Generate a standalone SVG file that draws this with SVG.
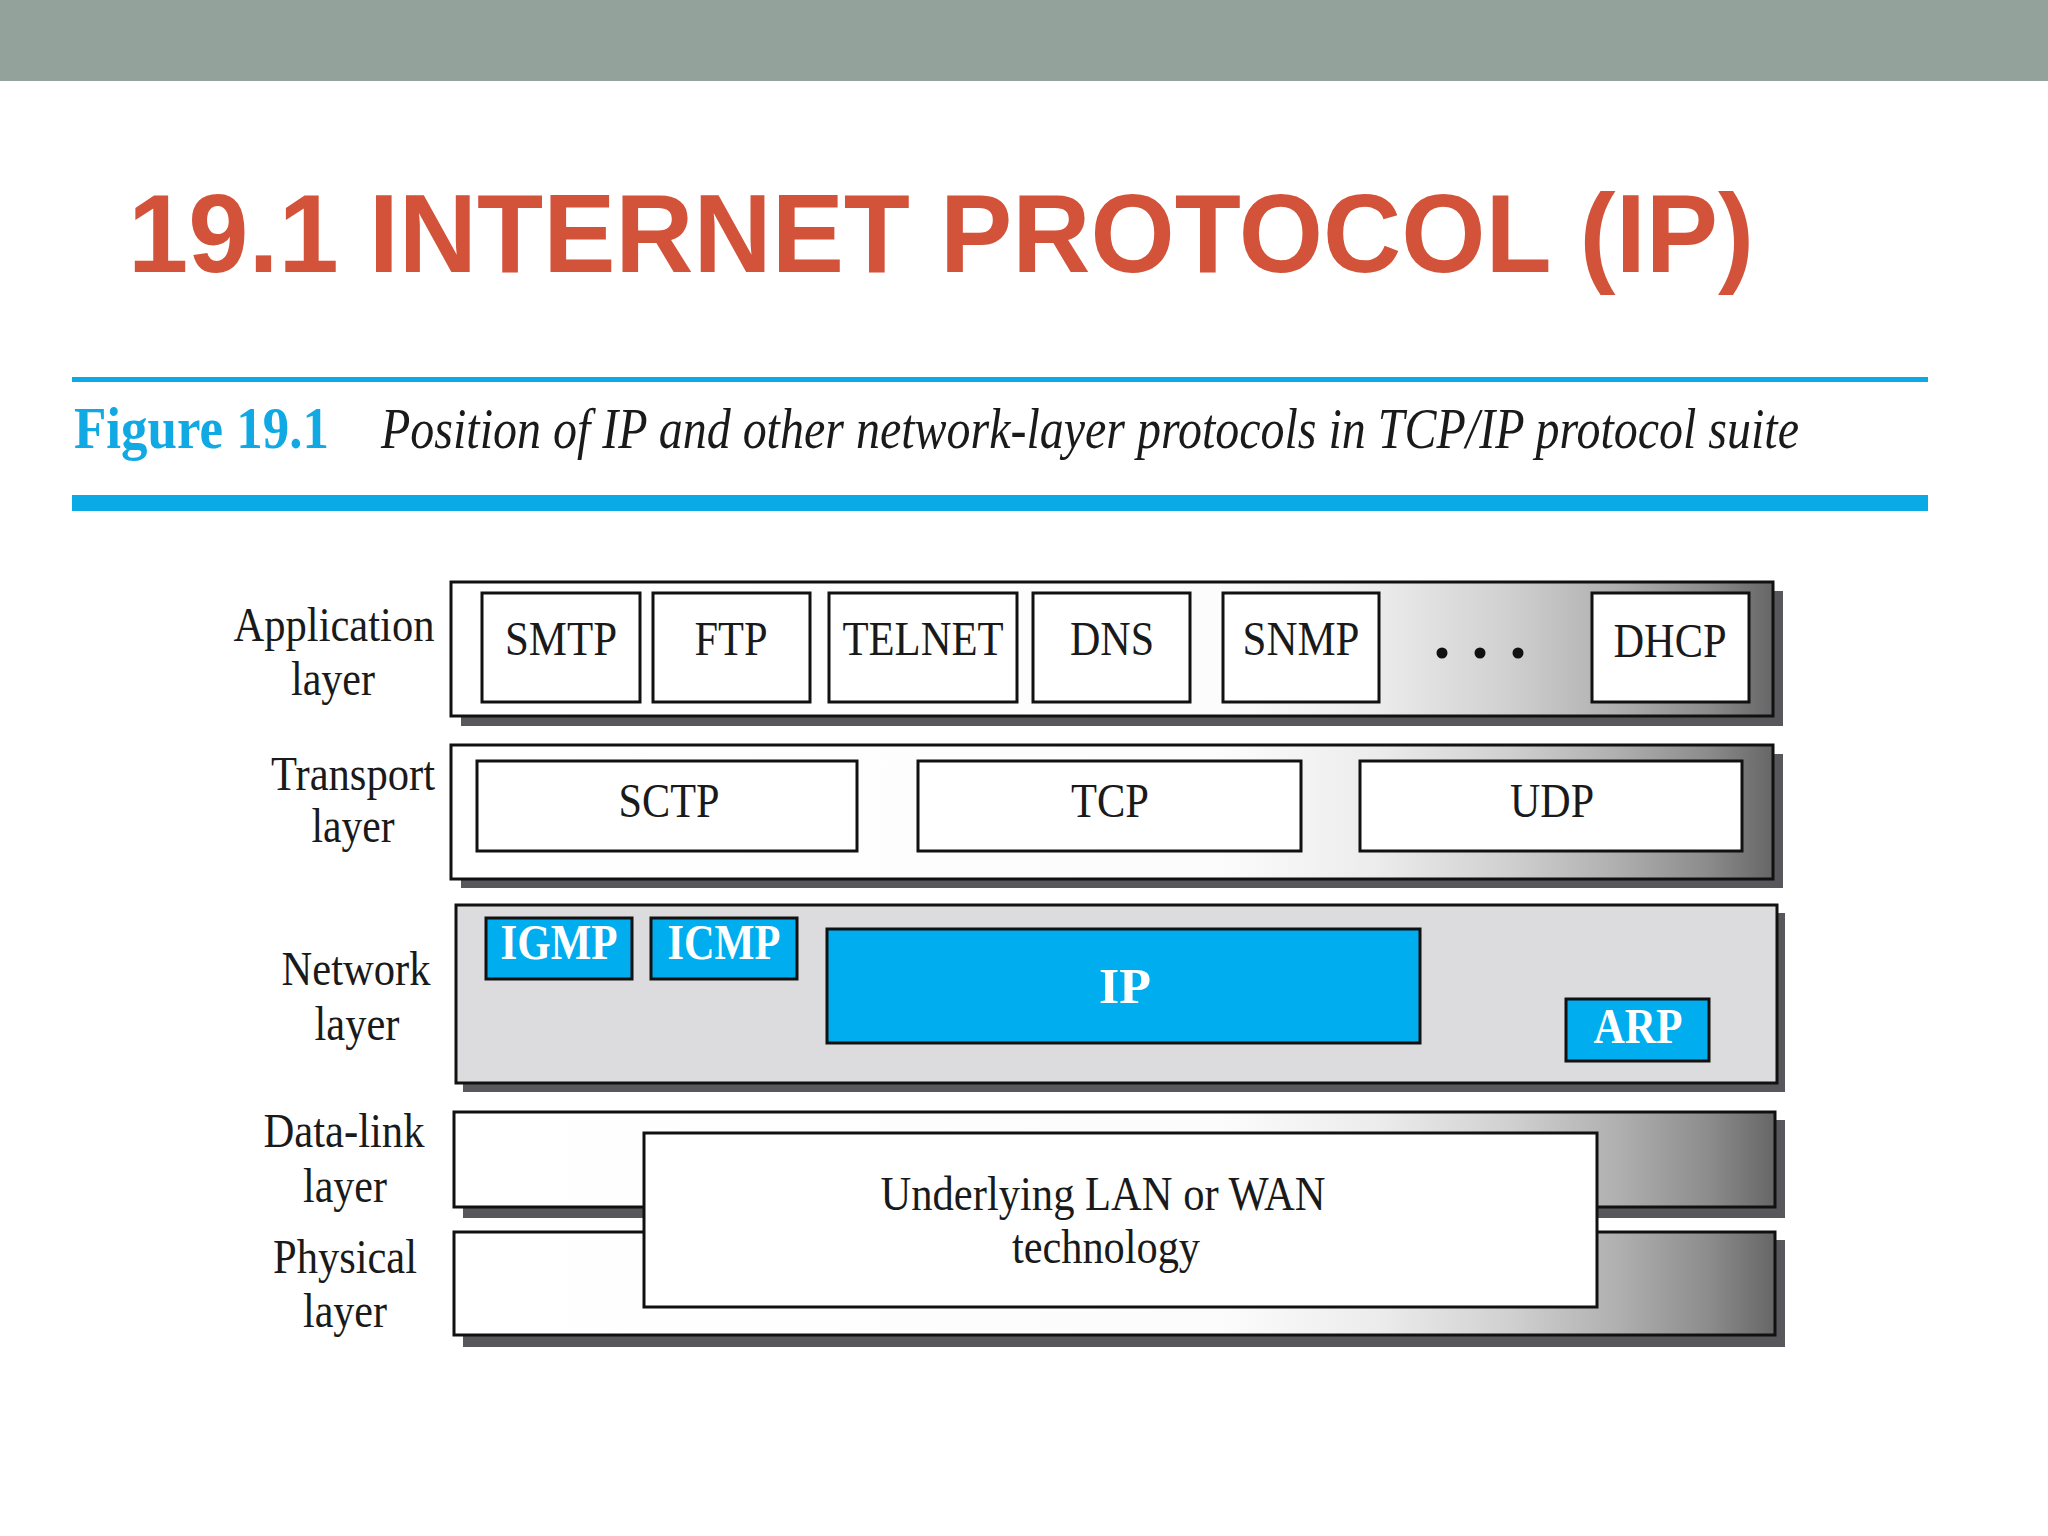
<svg xmlns="http://www.w3.org/2000/svg" width="2048" height="1536" viewBox="0 0 2048 1536">
  <defs>
    <linearGradient id="shade" x1="0" y1="0" x2="1" y2="0">
      <stop offset="0" stop-color="#ffffff"/>
      <stop offset="0.58" stop-color="#fcfcfc"/>
      <stop offset="0.70" stop-color="#ececec"/>
      <stop offset="0.80" stop-color="#d0d0d0"/>
      <stop offset="0.88" stop-color="#b0b0b0"/>
      <stop offset="0.95" stop-color="#8c8c8c"/>
      <stop offset="1" stop-color="#666666"/>
    </linearGradient>
    <style>
      .shadow { fill: #58585c; }
      .layer { fill: url(#shade); stroke: #111; stroke-width: 3; }
      .net { fill: #dcdcdf; stroke: #111; stroke-width: 3; }
      .box { fill: #ffffff; stroke: #111; stroke-width: 3; }
      .blue { fill: #00adef; stroke: #111; stroke-width: 3; }
      .lbl { font-family: "Liberation Serif", "Times New Roman", serif; font-size: 48px; fill: #1a1a1a; text-anchor: middle; }
      .proto { font-family: "Liberation Serif", "Times New Roman", serif; font-size: 48px; fill: #1a1a1a; text-anchor: middle; }
      .wproto { font-family: "Liberation Serif", "Times New Roman", serif; font-size: 50px; font-weight: bold; fill: #ffffff; text-anchor: middle; }
    </style>
  </defs>

  <rect x="0" y="0" width="2048" height="1536" fill="#ffffff"/>
  <rect x="0" y="0" width="2048" height="81" fill="#93a39b"/>

  <text x="128" y="272" font-family="Liberation Sans, Arial, sans-serif" font-size="112" font-weight="bold" fill="#d3533a" textLength="1626" lengthAdjust="spacingAndGlyphs">19.1 INTERNET PROTOCOL (IP)</text>

  <rect x="72" y="377" width="1856" height="5" fill="#0aaae6"/>
  <rect x="72" y="495" width="1856" height="16" fill="#0aaae6"/>
  <text x="74" y="448" font-family="Liberation Serif, Times New Roman, serif" font-size="60" font-weight="bold" fill="#11a9e3" textLength="255" lengthAdjust="spacingAndGlyphs">Figure 19.1</text>
  <text x="381" y="448" font-family="Liberation Serif, Times New Roman, serif" font-size="56" font-style="italic" fill="#1a1a1a" textLength="1418" lengthAdjust="spacingAndGlyphs">Position of IP and other network-layer protocols in TCP/IP protocol suite</text>

  <g id="layer-labels">
    <text class="lbl" x="334" y="641" textLength="201" lengthAdjust="spacingAndGlyphs">Application</text>
    <text class="lbl" x="333" y="695" textLength="84" lengthAdjust="spacingAndGlyphs">layer</text>
    <text class="lbl" x="353" y="790" textLength="164" lengthAdjust="spacingAndGlyphs">Transport</text>
    <text class="lbl" x="353" y="842" textLength="83" lengthAdjust="spacingAndGlyphs">layer</text>
    <text class="lbl" x="356" y="985" textLength="149" lengthAdjust="spacingAndGlyphs">Network</text>
    <text class="lbl" x="357" y="1040" textLength="85" lengthAdjust="spacingAndGlyphs">layer</text>
    <text class="lbl" x="344" y="1147" textLength="161" lengthAdjust="spacingAndGlyphs">Data-link</text>
    <text class="lbl" x="345" y="1202" textLength="84" lengthAdjust="spacingAndGlyphs">layer</text>
    <text class="lbl" x="345" y="1273" textLength="144" lengthAdjust="spacingAndGlyphs">Physical</text>
    <text class="lbl" x="345" y="1327" textLength="84" lengthAdjust="spacingAndGlyphs">layer</text>
  </g>

  <g id="application-layer">
    <rect class="shadow" x="461" y="591" width="1322" height="135"/>
    <rect class="layer" x="451" y="582" width="1322" height="134"/>
  </g>
  <g id="smtp">
    <rect class="box" x="482" y="593" width="158" height="109"/>
    <text class="proto" x="561" y="655" textLength="112" lengthAdjust="spacingAndGlyphs">SMTP</text>
  </g>
  <g id="ftp">
    <rect class="box" x="653" y="593" width="157" height="109"/>
    <text class="proto" x="731" y="655" textLength="73" lengthAdjust="spacingAndGlyphs">FTP</text>
  </g>
  <g id="telnet">
    <rect class="box" x="829" y="593" width="188" height="109"/>
    <text class="proto" x="923" y="655" textLength="161" lengthAdjust="spacingAndGlyphs">TELNET</text>
  </g>
  <g id="dns">
    <rect class="box" x="1033" y="593" width="157" height="109"/>
    <text class="proto" x="1112" y="655" textLength="84" lengthAdjust="spacingAndGlyphs">DNS</text>
  </g>
  <g id="snmp">
    <rect class="box" x="1223" y="593" width="156" height="109"/>
    <text class="proto" x="1301" y="655" textLength="117" lengthAdjust="spacingAndGlyphs">SNMP</text>
  </g>
  <g id="ellipsis">
    <circle cx="1442" cy="653" r="5.5" fill="#111"/>
    <circle cx="1480" cy="653" r="5.5" fill="#111"/>
    <circle cx="1518" cy="653" r="5.5" fill="#111"/>
  </g>
  <g id="dhcp">
    <rect class="box" x="1592" y="593" width="157" height="109"/>
    <text class="proto" x="1670" y="657" textLength="113" lengthAdjust="spacingAndGlyphs">DHCP</text>
  </g>

  <g id="transport-layer">
    <rect class="shadow" x="461" y="754" width="1322" height="134"/>
    <rect class="layer" x="451" y="745" width="1322" height="134"/>
  </g>
  <g id="sctp">
    <rect class="box" x="477" y="761" width="380" height="90"/>
    <text class="proto" x="669" y="817" textLength="101" lengthAdjust="spacingAndGlyphs">SCTP</text>
  </g>
  <g id="tcp">
    <rect class="box" x="918" y="761" width="383" height="90"/>
    <text class="proto" x="1110" y="817" textLength="78" lengthAdjust="spacingAndGlyphs">TCP</text>
  </g>
  <g id="udp">
    <rect class="box" x="1360" y="761" width="382" height="90"/>
    <text class="proto" x="1552" y="817" textLength="84" lengthAdjust="spacingAndGlyphs">UDP</text>
  </g>

  <g id="network-layer">
    <rect class="shadow" x="463" y="913" width="1322" height="179"/>
    <rect class="net" x="456" y="905" width="1321" height="178"/>
  </g>
  <g id="igmp">
    <rect class="blue" x="486" y="918" width="146" height="61"/>
    <text class="wproto" x="559" y="959" textLength="117" lengthAdjust="spacingAndGlyphs">IGMP</text>
  </g>
  <g id="icmp">
    <rect class="blue" x="651" y="918" width="146" height="61"/>
    <text class="wproto" x="724" y="959" textLength="113" lengthAdjust="spacingAndGlyphs">ICMP</text>
  </g>
  <g id="ip">
    <rect class="blue" x="827" y="929" width="593" height="114"/>
    <text class="wproto" x="1125" y="1003" font-size="60" textLength="52" lengthAdjust="spacingAndGlyphs">IP</text>
  </g>
  <g id="arp">
    <rect class="blue" x="1566" y="999" width="143" height="62"/>
    <text class="wproto" x="1638" y="1043" textLength="89" lengthAdjust="spacingAndGlyphs">ARP</text>
  </g>

  <g id="data-link-layer">
    <rect class="shadow" x="463" y="1120" width="1322" height="98"/>
    <rect class="layer" x="454" y="1112" width="1321" height="95"/>
  </g>
  <g id="physical-layer">
    <rect class="shadow" x="463" y="1240" width="1322" height="107"/>
    <rect class="layer" x="454" y="1232" width="1321" height="103"/>
  </g>
  <g id="underlying">
    <rect class="box" x="644" y="1133" width="953" height="174"/>
    <text class="proto" x="1103" y="1210" textLength="445" lengthAdjust="spacingAndGlyphs">Underlying LAN or WAN</text>
    <text class="proto" x="1106" y="1263" textLength="188" lengthAdjust="spacingAndGlyphs">technology</text>
  </g>

  <g id="connectors"></g>
</svg>
